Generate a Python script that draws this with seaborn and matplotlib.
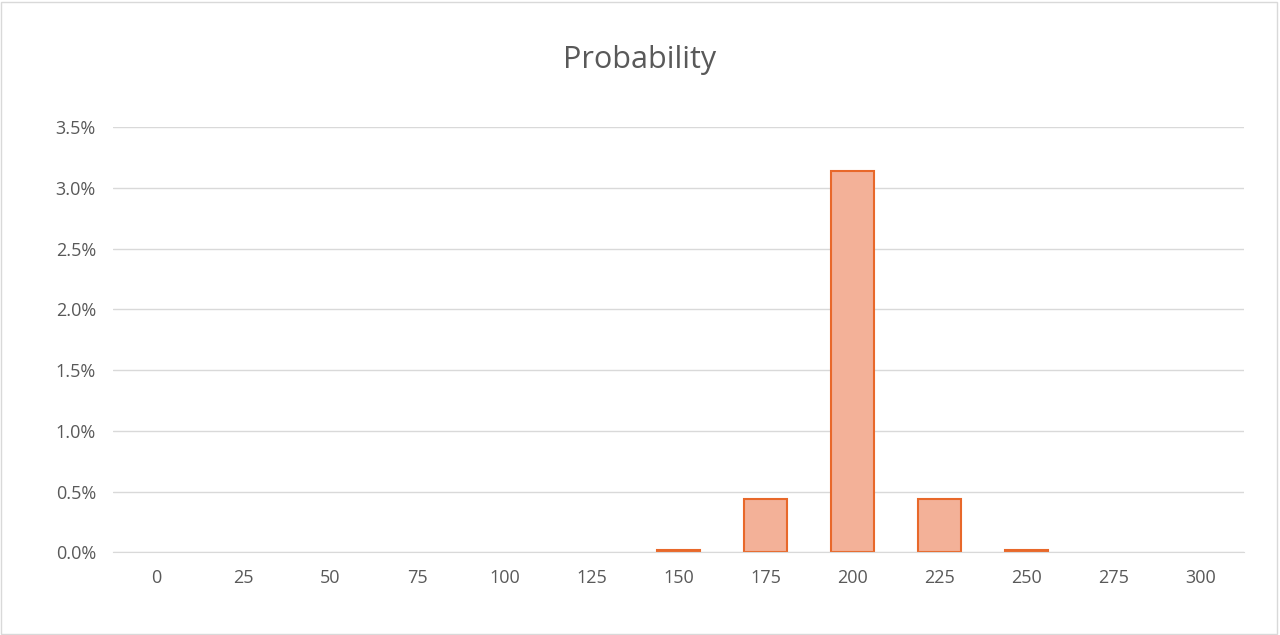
import numpy as np
import pandas as pd
import matplotlib
matplotlib.use("Agg")
import matplotlib.pyplot as plt
import seaborn as sns
from matplotlib.ticker import FuncFormatter

categories = ["0", "25", "50", "75", "100", "125", "150", "175", "200", "225", "250", "275", "300"]
probability = [0, 0, 0, 0, 0, 0, 0.00018, 0.0044, 0.0314, 0.0044, 0.00018, 0, 0]

df = pd.DataFrame({"value": categories, "prob": probability})

sns.set_style("white")
plt.rcParams["font.family"] = ["Open Sans", "DejaVu Sans"]

fig, ax = plt.subplots(figsize=(12.8, 6.35), dpi=100)
fig.subplots_adjust(left=0.088, right=0.972, top=0.8, bottom=0.13)

sns.barplot(data=df, x="value", y="prob", ax=ax, color="#F3B198",
            edgecolor="#E8682A", linewidth=1.5, width=0.5, saturation=1)
# hide outlines of empty bars
for patch, p in zip(ax.patches, probability):
    if p == 0:
        patch.set_linewidth(0)

ax.set_ylim(0, 0.035)
ax.set_yticks(np.arange(0, 0.0351, 0.005))
ax.yaxis.set_major_formatter(FuncFormatter(lambda v, p: f"{v*100:.1f}%"))
ax.grid(axis="y", color="#D9D9D9", linewidth=1)
ax.set_axisbelow(True)
for s in ["top", "right", "left"]:
    ax.spines[s].set_visible(False)
ax.spines["bottom"].set_color("#D9D9D9")
ax.tick_params(axis="both", colors="#595959", labelsize=13, length=0, pad=12)
ax.set_xlabel("")
ax.set_ylabel("")
fig.text(0.5, 0.905, "Probability", ha="center", va="center", fontsize=22, color="#595959")

# thin border around the chart area
fig.patches.append(plt.Rectangle((0.001, 0.002), 0.997, 0.995, transform=fig.transFigure,
                                 fill=False, edgecolor="#D9D9D9", linewidth=1))

fig.savefig("out.png", dpi=100)
